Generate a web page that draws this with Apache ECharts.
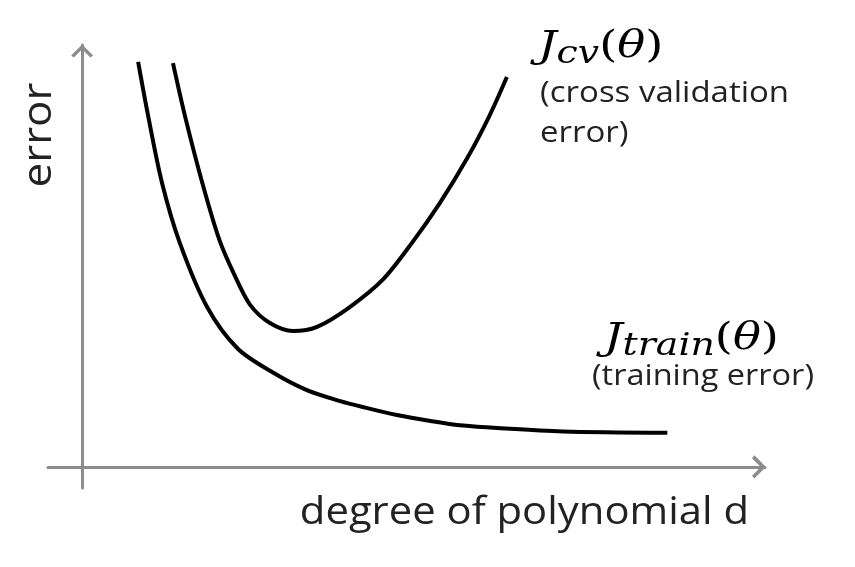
<!DOCTYPE html>
<html>
<head>
<meta charset="utf-8">
<script src="https://cdn.jsdelivr.net/npm/echarts@6/dist/echarts.min.js"></script>
<style>html,body{margin:0;padding:0;background:#fff;}#main{width:855px;height:567px;}</style>
</head>
<body>
<div id="main"></div>
<script>
// degree of polynomial (x) and error (y)
var trainX = [0.82, 0.97, 1.17, 1.43, 1.83, 2.28, 2.80, 3.29, 3.78, 4.11, 4.61, 5.10, 5.58, 6.08, 7.04, 8.57];
var trainY = [9.60, 8.29, 6.73, 5.31, 3.79, 2.80, 2.23, 1.82, 1.56, 1.42, 1.23, 1.09, 0.98, 0.92, 0.84, 0.81];
var cvX = [1.33, 1.51, 1.76, 2.01, 2.23, 2.46, 2.75, 3.09, 3.44, 3.92, 4.41, 4.83, 5.24, 5.64, 5.97, 6.22];
var cvY = [9.57, 8.29, 6.73, 5.38, 4.55, 3.84, 3.41, 3.22, 3.32, 3.79, 4.45, 5.31, 6.26, 7.32, 8.34, 9.24];

function pairs(xs, ys) { return xs.map(function (x, i) { return [x, ys[i]]; }); }

var axisGray = '#8c8c8c';
var chevron = 'path://M0,10 L10,0 L20,10 L17.5,12 L10,4.5 L2.5,12 Z';
var sansFont = 'Open Sans';
var mathFont = 'DejaVu Serif';
var mathRich = {
  j: { fontFamily: mathFont, fontStyle: 'italic', fontSize: 38, lineHeight: 46, color: '#222' },
  s: { fontFamily: mathFont, fontStyle: 'italic', fontSize: 31, lineHeight: 31, verticalAlign: 'bottom', color: '#222' },
  p: { fontFamily: mathFont, fontSize: 38, lineHeight: 46, color: '#222' },
  t: { fontFamily: mathFont, fontStyle: 'italic', fontSize: 38, lineHeight: 46, color: '#222' }
};

var chart = echarts.init(document.getElementById('main'), null, { renderer: 'canvas' });
chart.setOption({
  animation: false,
  backgroundColor: '#ffffff',
  grid: { left: 48, right: 90, top: 45, bottom: 79 },
  xAxis: {
    type: 'value', min: -0.5, max: 10,
    axisLine: { onZero: true, lineStyle: { color: axisGray, width: 3 }, symbol: ['none', chevron], symbolSize: [24, 14], symbolOffset: [0, -6] },
    axisTick: { show: false }, axisLabel: { show: false }, splitLine: { show: false }
  },
  yAxis: {
    type: 'value', min: -0.5, max: 10,
    axisLine: { onZero: true, lineStyle: { color: axisGray, width: 3 }, symbol: ['none', chevron], symbolSize: [22, 14], symbolOffset: [0, -6] },
    axisTick: { show: false }, axisLabel: { show: false }, splitLine: { show: false }
  },
  series: [
    { name: 'J_train', type: 'line', data: pairs(trainX, trainY), smooth: 0.3, showSymbol: false,
      lineStyle: { color: '#000', width: 4 } },
    { name: 'J_cv', type: 'line', data: pairs(cvX, cvY), smooth: 0.3, showSymbol: false,
      lineStyle: { color: '#000', width: 4 } }
  ],
  graphic: [
    { type: 'text', x: 20, y: 135, rotation: Math.PI / 2, scaleX: 1.1,
      style: { text: 'error', fontFamily: sansFont, fontSize: 40, fill: '#222', align: 'center', verticalAlign: 'top' } },
    { type: 'text', x: 749, y: 494, scaleX: 1.1,
      style: { text: 'degree of polynomial d', fontFamily: sansFont, fontSize: 38, fill: '#222', align: 'right', verticalAlign: 'top' } },
    { type: 'text', x: 538, y: 24, scaleX: 1.22,
      style: { text: '{j|J}{s|cv}{p|(}{t|θ}{p|)}', rich: mathRich } },
    { type: 'text', x: 540, y: 73, scaleX: 1.1,
      style: { text: '(cross validation\nerror)', fontFamily: sansFont, fontSize: 30, lineHeight: 40, fill: '#222' } },
    { type: 'text', x: 604, y: 316, scaleX: 1.22,
      style: { text: '{j|J}{s|train}{p|(}{t|θ}{p|)}', rich: mathRich } },
    { type: 'text', x: 592, y: 362, scaleX: 1.12,
      style: { text: '(training error)', fontFamily: sansFont, fontSize: 29, fill: '#222' } }
  ]
});
</script>
</body>
</html>
